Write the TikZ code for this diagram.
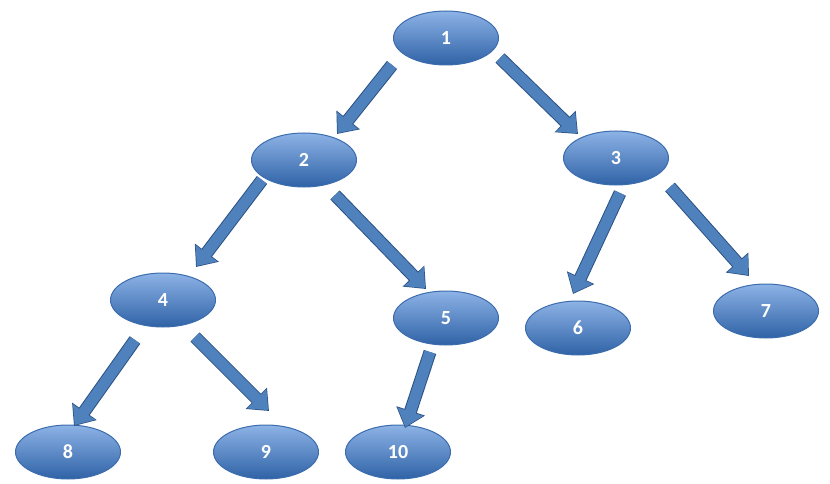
\documentclass[tikz,border=0pt]{standalone}
\usepackage{fontspec}
\setmainfont{Carlito}
\usetikzlibrary{arrows.meta,shapes.geometric}
\definecolor{ntop}{HTML}{8DB3E6}
\definecolor{nbot}{HTML}{2F62A6}
\definecolor{nedge}{HTML}{3C6DAE}
\definecolor{afill}{HTML}{4F81BD}
\definecolor{aedge}{HTML}{2C5284}
\tikzset{
  nd/.style={ellipse, minimum width=105pt, minimum height=54pt, top color=ntop, bottom color=nbot, draw=nedge, line width=1pt, text=white, font=\bfseries\fontsize{20}{24}\selectfont},
  blk/.style={line width=11pt, draw=afill, -{Triangle[length=16pt,width=26pt]}},
}
\begin{document}
\begin{tikzpicture}[x=1pt,y=-1pt]
\useasboundingbox (0,0) rectangle (830,484);
\node[nd] (n1) at (446,38) {1};
\node[nd] (n2) at (304,160) {2};
\node[nd] (n3) at (616,158) {3};
\node[nd] (n4) at (163,300) {4};
\node[nd] (n5) at (446,318) {5};
\node[nd] (n6) at (578,328) {6};
\node[nd] (n7) at (766,311) {7};
\node[nd] (n8) at (68,452) {8};
\node[nd] (n9) at (266,452) {9};
\node[nd] (n10) at (398,452) {10};
\foreach \n/\ax/\ay/\bx/\by in {a/392/65/337/134, b/500/58/578/134, c/262/180/196/267, d/335/195/426/289, e/620/193/573/294, f/670/187/749/276, g/135/340/74/426, h/195/337/269/411, i/430/352/405/428}{
  \coordinate (s\n) at (\ax,\ay);
  \coordinate (t\n) at (\bx,\by);
  \draw[line width=13pt, draw=aedge, -{Triangle[length=18pt,width=29pt]}] (s\n) -- (t\n);
  \draw[blk, shorten >=1.2pt] (s\n) -- (t\n);
}
\end{tikzpicture}
\end{document}
